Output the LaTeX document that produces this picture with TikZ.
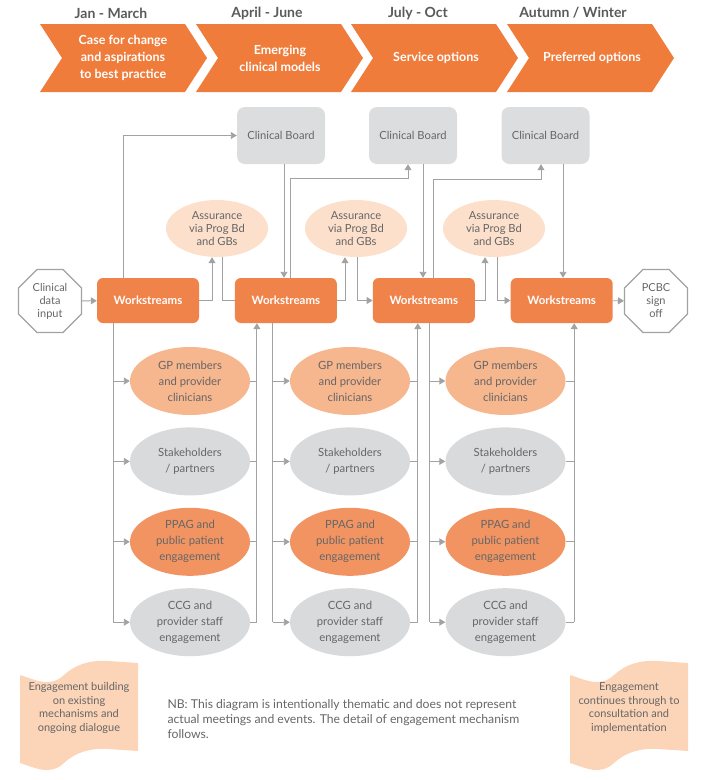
\documentclass[tikz,border=0pt]{standalone}
\usepackage{fontspec}
\setmainfont{Lato}
\usepackage{tikz}
\usetikzlibrary{shapes,arrows.meta,positioning,calc}

\definecolor{chevorange}{HTML}{F07C3C}
\definecolor{wsorange}{HTML}{F0834A}
\definecolor{boardgray}{HTML}{DCDDDE}
\definecolor{assurefill}{HTML}{FCE0CB}
\definecolor{gpfill}{HTML}{F6B68E}
\definecolor{ppagfill}{HTML}{F29462}
\definecolor{engray}{HTML}{D9DADB}
\definecolor{scrollfill}{HTML}{FCD4B8}
\definecolor{linegray}{HTML}{A2A2A2}
\definecolor{textgray}{HTML}{666666}
\definecolor{monthgray}{HTML}{5A5A5A}

\begin{document}
\begin{tikzpicture}[
    x=1pt, y=-1pt,
    month/.style={font=\bfseries\fontsize{14}{16}\selectfont, text=monthgray},
    phase/.style={align=center, font=\bfseries\fontsize{12.5}{17}\selectfont, text=white},
    board/.style={rectangle, rounded corners=8pt, fill=boardgray, minimum width=88pt, minimum height=57pt, font=\fontsize{11.2}{13}\selectfont, text=textgray},
    assure/.style={ellipse, fill=assurefill, minimum width=102pt, minimum height=57pt, inner sep=0pt, align=center, font=\fontsize{11.2}{13}\selectfont, text=textgray},
    work/.style={rectangle, rounded corners=6pt, fill=wsorange, minimum width=102pt, minimum height=45pt, font=\bfseries\fontsize{11.5}{13}\selectfont, text=white},
    octo/.style={regular polygon, regular polygon sides=8, draw=linegray, line width=1.2pt, fill=white, minimum size=68pt, inner sep=0pt, align=center, font=\fontsize{11}{13}\selectfont, text=textgray},
    engage/.style={ellipse, minimum width=120pt, minimum height=68pt, inner sep=0pt, align=center, font=\fontsize{11.3}{16}\selectfont, text=textgray},
    scrolltext/.style={align=center, font=\fontsize{11}{13.5}\selectfont, text=textgray},
    line/.style={draw=linegray, line width=0.9pt},
    arrow/.style={line, -{Triangle[length=6pt,width=7pt]}},
]
    \useasboundingbox (0,0) rectangle (701,780);

    % timeline banner
    \foreach \cx in {40,196,351,507}
        \fill[chevorange] (\cx,24) -- ++(145,0) -- ++(22,34) -- ++(-22,34) -- ++(-145,0) -- ++(22,-34) -- cycle;
    \node[month] (m1) at (111,13) {Jan - March};
    \node[month] (m2) at (267,13) {April - June};
    \node[month] (m3) at (418,13) {July - Oct};
    \node[month] (m4) at (573,13) {Autumn / Winter};
    \node[phase] (ph1) at (123,58) {Case for change\\and aspirations\\to best practice};
    \node[phase] (ph2) at (280,58) {Emerging\\clinical models};
    \node[phase] (ph3) at (436,58) {Service options};
    \node[phase] (ph4) at (592,58) {Preferred options};

    % boards and assurance
    \node[board] (cb1) at (281,135.5) {Clinical Board};
    \node[board] (cb2) at (413,135.5) {Clinical Board};
    \node[board] (cb3) at (545.5,135.5) {Clinical Board};
    \node[assure] (as1) at (217,228.5) {Assurance\\via Prog Bd\\and GBs};
    \node[assure] (as2) at (356,228.5) {Assurance\\via Prog Bd\\and GBs};
    \node[assure] (as3) at (494,228.5) {Assurance\\via Prog Bd\\and GBs};

    % workstreams row
    \node[octo] (input) at (50,301) {Clinical\\data\\input};
    \node[work] (ws1) at (148,300.5) {Workstreams};
    \node[work, right=35.5pt of ws1] (ws2) {Workstreams};
    \node[work, right=35.5pt of ws2] (ws3) {Workstreams};
    \node[work, right=35.5pt of ws3] (ws4) {Workstreams};
    \node[octo] (signoff) at (656,301) {PCBC\\sign\\off};

    \draw[arrow] (input) -- (ws1);
    \draw[arrow] (ws4) -- (signoff);
    \draw[arrow] ([xshift=-25pt]ws1.north) |- (cb1.west);
    \draw[arrow] (ws1.east) -| ([xshift=-5pt]as1.south);
    \draw[line] ([xshift=5pt]as1.south) |- (ws2.west);
    \draw[arrow] ([xshift=3pt]cb1.south) -- ([xshift=3pt]cb1.south |- ws2.north);
    \draw[arrow] ([xshift=5pt]ws2.north) -- ++(0,-99) -| ([xshift=-5pt]cb2.south);
    \draw[arrow] (ws2.east) -| ([xshift=-11pt]as2.south);
    \draw[arrow] ([xshift=1pt]as2.south) |- (ws3.west);
    \draw[arrow] ([xshift=10pt]cb2.south) -- ([xshift=10pt]cb2.south |- ws3.north);
    \draw[arrow] ([xshift=10pt]ws3.north) -- ++(0,-98) -| ([xshift=-4.5pt]cb3.south);
    \draw[arrow] (ws3.east) -| ([xshift=-9pt]as3.south);
    \draw[arrow] ([xshift=3pt]as3.south) |- (ws4.west);
    \draw[arrow] ([xshift=17.5pt]cb3.south) -- ([xshift=17.5pt]cb3.south |- ws4.north);

    % engagement columns
    \foreach \c/\x in {1/190,2/350,3/505.5} {
        \node[engage, fill=gpfill] (gp\c) at (\x,381) {GP members\\and provider\\clinicians};
        \node[engage, fill=engray, below=12pt of gp\c] (sh\c) {Stakeholders\\/ partners};
        \node[engage, fill=ppagfill, below=12pt of sh\c] (pp\c) {PPAG and\\public patient\\engagement};
        \node[engage, fill=engray, below=12pt of pp\c] (cc\c) {CCG and\\provider staff\\engagement};
    }
    \foreach \c/\src/\sdx/\dst/\ddx in {1/ws1/-35/ws2/-29, 2/ws2/-13/ws3/-6, 3/ws3/6/ws4/12.5} {
        \coordinate (trunk\c) at ([xshift=\sdx pt]\src.south);
        \coordinate (rise\c) at ([xshift=\ddx pt]\dst.south);
        \draw[line] (trunk\c) -- (trunk\c |- cc\c.west);
        \draw[arrow] (rise\c |- cc\c.east) -- (rise\c);
        \foreach \e in {gp,sh,pp,cc} {
            \draw[arrow] (trunk\c |- \e\c.west) -- (\e\c.west);
            \draw[line] (\e\c.east) -- (\e\c.east -| rise\c);
        }
    }

    % scrolls and note
    \foreach \sx in {0,550}
        \fill[scrollfill, xshift=\sx pt] (20,675) .. controls (36,680) and (50,688) .. (64,675)
            .. controls (76,664) and (90,660) .. (108,661) -- (138,663) -- (138,751)
            -- (108,749) .. controls (90,748) and (76,752) .. (64,763)
            .. controls (50,776) and (36,768) .. (20,763) -- cycle;
    \node[scrolltext] (scl) at (79,708) {Engagement building\\on existing\\mechanisms and\\ongoing dialogue};
    \node[scrolltext] (scr) at (629,708) {Engagement\\continues through to\\consultation and\\implementation};
    \node[anchor=west, align=left, font=\fontsize{12.2}{15}\selectfont, text=textgray] (nb) at (164,719)
        {NB: This diagram is intentionally thematic and does not represent\\actual meetings and events. The detail of engagement mechanism\\follows.};
\end{tikzpicture}
\end{document}
